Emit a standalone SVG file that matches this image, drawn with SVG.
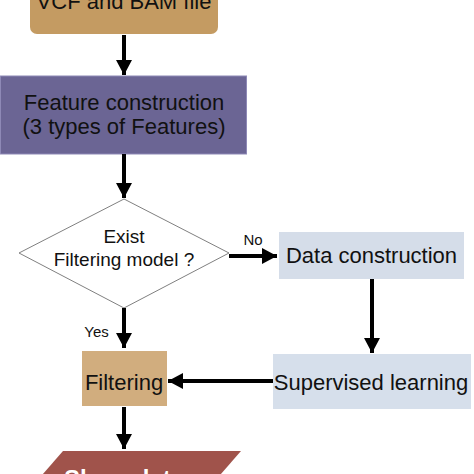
<svg xmlns="http://www.w3.org/2000/svg" width="474" height="474" viewBox="0 0 474 474">
<defs>
<marker id="ah" markerUnits="userSpaceOnUse" markerWidth="16" markerHeight="16" viewBox="0 0 16 16" refX="15" refY="8" orient="auto">
<path d="M0,0 L15,8 L0,16 Z" fill="#000"/>
</marker>
<style>
.t{font-family:"Liberation Sans",Arial,sans-serif;fill:#111;text-anchor:middle}
.c{stroke:#000;stroke-width:4;fill:none;marker-end:url(#ah)}
</style>
</defs>
<rect width="474" height="474" fill="#fff"/>
<g id="vcf">
<rect x="30" y="-20" width="188" height="54" rx="7" fill="#c49b62"/>
<text class="t" x="124" y="9" font-size="22">VCF and BAM file</text>
</g>
<g id="feature">
<rect x="0.5" y="76" width="246" height="78" fill="#6b6594" stroke="#8e89b6" stroke-width="1"/>
<text class="t" x="124" y="110" font-size="22">Feature construction</text>
<text class="t" x="124" y="134" font-size="22">(3 types of Features)</text>
</g>
<g id="decision">
<polygon points="124,199 229,253 124,308 19,253" fill="#fff" stroke="#808080" stroke-width="1"/>
<text class="t" x="124" y="243" font-size="19">Exist</text>
<text class="t" x="124" y="266" font-size="19">Filtering model ?</text>
</g>
<g id="data">
<rect x="279" y="232" width="185" height="47" fill="#d5dde9"/>
<text class="t" x="371.5" y="263" font-size="22">Data construction</text>
</g>
<g id="supervised">
<rect x="273" y="354" width="198" height="55" fill="#d6dfeb"/>
<text class="t" x="371" y="390" font-size="22">Supervised learning</text>
</g>
<g id="filtering">
<rect x="82" y="351" width="85" height="55" fill="#d1ad7e"/>
<text class="t" x="124" y="390" font-size="22">Filtering</text>
</g>
<g id="show">
<polygon points="63,451 241,451 207,490 29,490" fill="#a0534b"/>
<text class="t" x="124" y="487" font-size="24" font-weight="bold" style="fill:#fff">Show data</text>
</g>
<g id="connectors">
<line class="c" x1="124" y1="35" x2="124" y2="75"/>
<line class="c" x1="124" y1="154" x2="124" y2="198"/>
<line class="c" x1="229" y1="256" x2="277" y2="256"/>
<line class="c" x1="372" y1="279" x2="372" y2="353"/>
<line class="c" x1="273" y1="381" x2="168" y2="381"/>
<line class="c" x1="124" y1="308" x2="124" y2="348"/>
<line class="c" x1="124" y1="407" x2="124" y2="449"/>
<text class="t" x="253" y="245" font-size="15">No</text>
<text class="t" x="96.5" y="337" font-size="15">Yes</text>
</g>
</svg>
